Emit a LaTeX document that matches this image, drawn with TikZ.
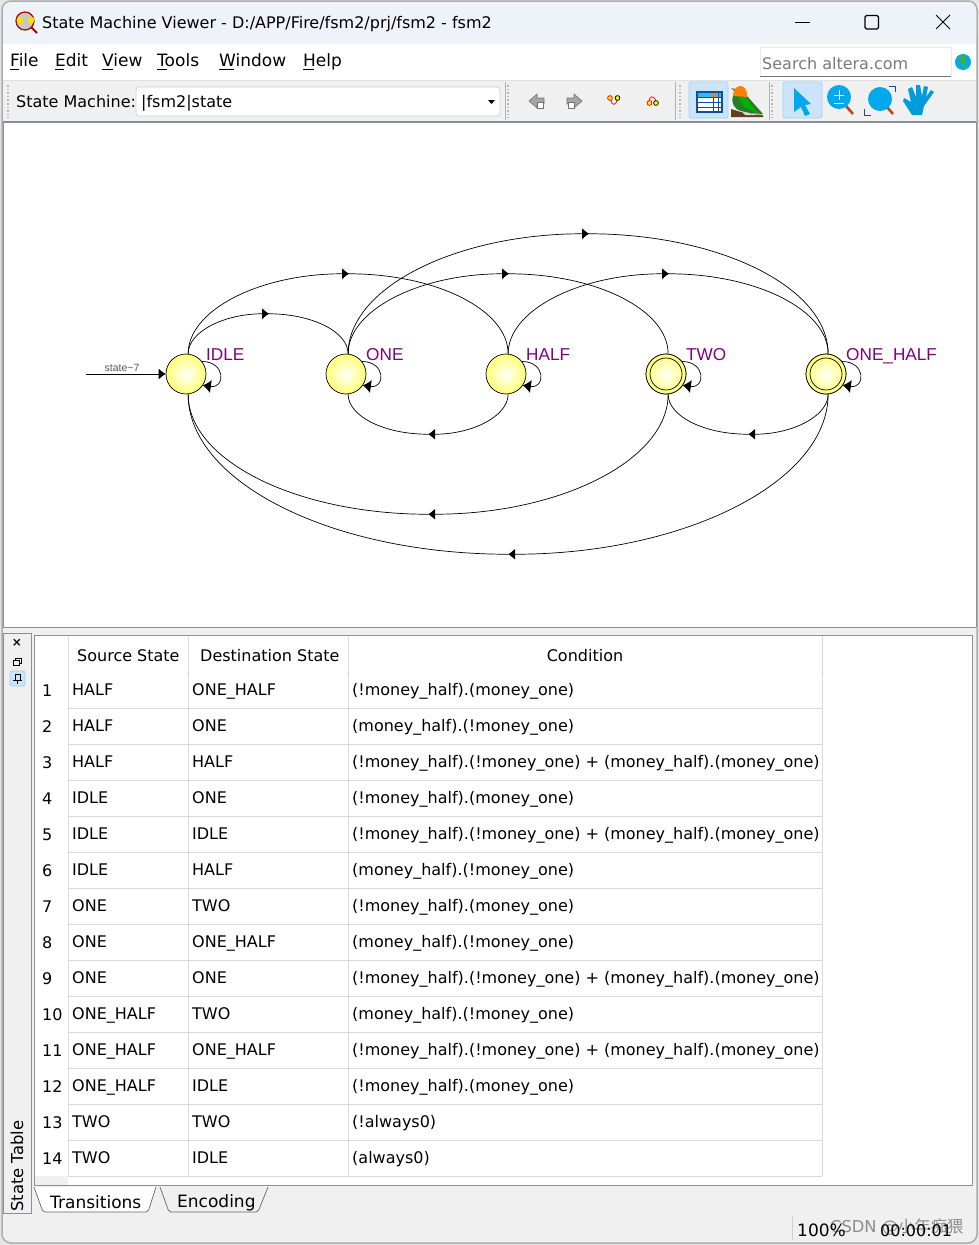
\documentclass[tikz,border=0pt]{standalone}
\usepackage{fontspec}
\setmainfont{DejaVu Sans}
\newfontfamily\cjk{Noto Sans CJK SC}
\newfontfamily\diagfont{Liberation Sans}
\usetikzlibrary{arrows.meta,calc,positioning}
\definecolor{chrome}{HTML}{F0F0F0}
\definecolor{titlebar}{HTML}{EEF3FA}
\definecolor{gridline}{HTML}{D9D9D9}
\definecolor{frameline}{HTML}{8C8F96}
\definecolor{statetext}{HTML}{800080}
\definecolor{hilite}{HTML}{CCE4F7}
\definecolor{hiliteline}{HTML}{99D1FF}
\definecolor{toolblue}{HTML}{00A8EC}
\definecolor{handleline}{HTML}{C1461B}
\definecolor{darkblue}{HTML}{0F4FA0}
\newcommand{\holdcond}{(!money\_half).(!money\_one) + (money\_half).(money\_one)}
\newcommand{\onecond}{(!money\_half).(money\_one)}
\newcommand{\halfcond}{(money\_half).(!money\_one)}
\tikzset{
  uitext/.style={inner sep=0pt,anchor=base west,font=\fontsize{16}{18}\selectfont},
  bigtext/.style={inner sep=0pt,anchor=base west,font=\fontsize{17}{18}\selectfont},
  cell/.style={inner sep=0pt,anchor=base west,font=\fontsize{16}{18}\selectfont},
  state/.style={circle,draw=black,line width=.7pt,minimum size=40pt,inner sep=0pt,
    shading=radial,inner color=white,outer color=yellow!55},
  accept/.style={path picture={\draw[line width=.7pt] (path picture bounding box.center) circle (16pt);}},
  statelabel/.style={inner sep=0pt,anchor=base west,text=statetext,font=\diagfont\fontsize{17.2}{18}\selectfont},
  trans/.style={line width=.7pt,draw=black},
  midtip/.style={-{Latex[length=7pt,width=11pt]}},
  looptip/.style={-{Latex[length=8pt,width=13pt]}},
  flatbutton/.style={rounded corners=2pt,fill=hilite,draw=hiliteline,line width=.7pt},
  dots/.style={dotted,line width=1.6pt,draw=black!28},
}
\begin{document}
\begin{tikzpicture}[x=1pt,y=-1pt]
\useasboundingbox (0,0) rectangle (979,1245);
\fill[black!10] (0,0) rectangle (979,1245);
% window
\draw[fill=chrome,draw=black!32,line width=1.5pt,rounded corners=9pt] (2,1) rectangle (977,1243);
\fill[titlebar,rounded corners=8pt] (3,2) -- (976,2) -- (976,44) -- (3,44) -- cycle;
\fill[titlebar] (3,20) rectangle (976,44);
\fill[white] (3,44) rectangle (976,80);
\draw[black!12,line width=1pt] (3,80.5) -- (976,80.5);
\fill[white] (3,123) rectangle (976,627);
\draw[frameline,line width=1.2pt] (3,122) -- (976,122);
\draw[frameline,line width=1pt] (3,627) -- (976,627) (976,122) -- (976,627) (3,122) -- (3,627);
% title bar
\fill[black!22] (25,21) circle (9pt);
\draw[red!70!black,line width=1.2pt] (25,21) circle (9pt);
\draw[red!70!black,line width=2pt] (31,27) -- (37,33);
\fill[yellow!85!orange] (20,20) circle (3.4pt) (31,20) circle (3.4pt);
\node[uitext] (wintitle) at (42,28) {State Machine Viewer - D:/APP/Fire/fsm2/prj/fsm2 - fsm2};
\draw[black,line width=1pt] (795,22.5) -- (810,22.5);
\draw[black,line width=1.2pt,rounded corners=1.5pt] (865,15.5) rectangle (878.5,29);
\draw[black,line width=1pt] (936,15) -- (950,29) (950,15) -- (936,29);
% menu
\foreach[count=\xi] \x/\w in {File/10,Edit/55,View/102,Tools/157,Window/219,Help/303}{
  \node[bigtext] (menu-\xi) at (\w,66) {\x};
}
\foreach \w/\t in {10/9,55/9,102/11,157/10,219/15,303/11}{
  \draw[black,line width=.7pt] (\w,69.5) -- ++(\t,0);
}
\fill[white] (760,47) rectangle (951,76);
\draw[black!8,line width=.6pt] (760,76) -- (760,47) -- (951,47) -- (951,76);
\draw[black!55,line width=1pt] (760,76.5) -- (951,76.5);
\node[uitext,text=black!52] (searchbox) at (762,69) {Search altera.com};
\fill[toolblue] (963,62) circle (8pt);
\fill[green!60!black!75] (958,57) -- (965,55.5) -- (966,61) -- (963,69) -- (961,62) -- cycle;
% toolbar
\foreach \x in {8,508,680,772}{
  \draw[dots] (\x,85) -- (\x,118);
}
\foreach \x in {505,675,769}{
  \draw[black!30,line width=.8pt] (\x,82) -- (\x,120);
}
\node[uitext] (machinelabel) at (16,107) {State Machine:};
\draw[fill=white,draw=black!18,line width=.8pt,rounded corners=3pt] (136,87) rectangle (500,116);
\node[uitext] (machinename) at (141,107) {|fsm2|state};
\fill[black] (488,100) -- (495,100) -- (491.5,104) -- cycle;
% navigation icons
\draw[fill=black!35,draw=black!55,line width=.6pt] (529,101) -- (537,94) -- (537,98) -- (544,98) -- (544,104) -- (537,104) -- (537,108) -- cycle;
\draw[fill=white,draw=black!55,line width=.6pt] (537,102) rectangle (543,108);
\draw[fill=black!35,draw=black!55,line width=.6pt] (582,101) -- (574,94) -- (574,98) -- (567,98) -- (567,104) -- (574,104) -- (574,108) -- cycle;
\draw[fill=white,draw=black!55,line width=.6pt] (568,102) rectangle (574,108);
\draw[red,line width=.7pt] (611,100) .. controls (611,106) and (617,106) .. (617,99);
\draw[red,fill=yellow,line width=.7pt] (610,98) circle (2.4pt);
\draw[black,fill=yellow,line width=.7pt] (617.5,98) circle (2.4pt);
\draw[red,line width=.7pt] (649,102) .. controls (649,95) and (655,95) .. (656,102);
\draw[red,fill=yellow,line width=.7pt] (649.5,103) circle (2.4pt);
\draw[black,fill=yellow,line width=.7pt] (656,103) circle (2.4pt);
% table and bird icons
\draw[flatbutton] (689,82) rectangle (728,118);
\fill[darkblue] (696,91) rectangle (723,113);
\fill[toolblue!80] (698,93) rectangle (721,97);
\fill[white] (698,98) rectangle (721,111);
\draw[darkblue,line width=1pt] (698,102.5) -- (721,102.5) (698,107) -- (721,107) (713,93) -- (713,111) (718,93) -- (718,111);
\fill[orange] (712,93) rectangle (716,97);
\fill[black!50!brown] (731,117) -- (731,109) -- (741,112) -- (763,115) -- (763,117) -- cycle;
\fill[white!85!black] (738,108) -- (752,114) -- (763,115) -- (745,115) -- cycle;
\fill[green!40!black!85] (733,96) .. controls (731,103) and (734,109) .. (741,111) -- (750,113) -- (763,114) -- (747,96) -- cycle;
\fill[green!70!black] (738,97) -- (746,97) -- (757,113) -- (744,107) -- cycle;
\fill[orange] (733,96) .. controls (733,83) and (748,82) .. (747,97) -- cycle;
\fill[black!60] (731,88) -- (735,89) -- (734,91) -- cycle;
% pointer and zoom icons
\draw[flatbutton] (783,82) rectangle (822,118);
\fill[toolblue] (794,88) -- (811,104) -- (805,105) -- (810,114) -- (805,116) -- (801,107) -- (794,112) -- cycle;
\draw[handleline,line width=2.6pt] (846,106) -- (853,114);
\fill[toolblue] (839,97) circle (12pt);
\draw[white,line width=1pt] (834,95) -- (844,95) (839,90) -- (839,99.5) (834,103) -- (844,103);
\draw[handleline,line width=2.6pt] (887,107) -- (893,114);
\fill[toolblue] (880,99) circle (12pt);
\draw[darkblue,line width=.9pt] (889,86) -- (895.5,86) -- (895.5,92) (864.5,109) -- (864.5,115.5) -- (871,115.5);
\fill[toolblue!92!black] (912,115) -- (922,115) -- (924,106) -- (934,92) -- (931,90) -- (926,97) -- (928,87) -- (924,86) -- (922,96) -- (920,85) -- (916,85) -- (916,97) -- (912,87) -- (908,89) -- (911,102) -- (904,98) -- (903,101) -- cycle;
% state diagram
\foreach \name/\lab/\x in {idle/IDLE/186,one/ONE/346,half/HALF/506,two/TWO/666,onehalf/ONE\_HALF/826}{
  \node[state] (\name) at (\x,374) {};
  \node[statelabel] (\name-label) at (\x+20,360) {\lab};
}
\node[state,accept] (two) at (666,374) {};
\node[state,accept] (onehalf) at (826,374) {};
\foreach \name in {idle,one,half,two,onehalf}{
  \draw[trans,looptip] (\name.38) to[out=0,in=-8,looseness=2.5] (\name.-34);
}
% arcs above the states, arcs below
\foreach \src/\dst/\rise in {idle/one/-40,idle/half/-80,one/two/-80,one/onehalf/-120,half/onehalf/-80}{
  \coordinate (peak) at ($(\src.84)!.5!(\dst.84)+(0,\rise)$);
  \draw[trans,midtip] (\src.84) .. controls ($(\src.84)+(0,.55*\rise)$) and ($(peak)!.55!(\src.84 |- peak)$) .. ($(peak)+(1,0)$);
  \draw[trans] (peak) .. controls ($(peak)!.55!(\dst.84 |- peak)$) and ($(\dst.84)+(0,.55*\rise)$) .. (\dst.84);
}
\foreach \src/\dst/\rise in {half/one/40,onehalf/two/40,two/idle/120,onehalf/idle/160}{
  \coordinate (peak) at ($(\src.-84)!.5!(\dst.-84)+(0,\rise)$);
  \draw[trans,midtip] (\src.-84) .. controls ($(\src.-84)+(0,.55*\rise)$) and ($(peak)!.55!(\src.-84 |- peak)$) .. (peak);
  \draw[trans] (peak) .. controls ($(peak)!.55!(\dst.-84 |- peak)$) and ($(\dst.-84)+(0,.55*\rise)$) .. (\dst.-84);
}
\coordinate (entry) at (86,374);
\draw[trans,line width=.8pt,-{Latex[length=7pt,width=11pt]}] (entry) -- (idle.west);
\node[inner sep=0pt,anchor=base,text=black!65,font=\diagfont\fontsize{10.5}{12}\selectfont] (entry-label) at (122,371) {state\textasciitilde7};
% side pane
\draw[fill=chrome,draw=frameline,line width=.8pt] (3,633) rectangle (31,1213);
\node[inner sep=0pt,font=\fontsize{12}{12}\selectfont\bfseries] (pane-close) at (17,643) {×};
\draw[black,line width=.7pt,fill=chrome] (15,658) rectangle (21,663);
\draw[black,line width=.7pt,fill=chrome] (13,660) rectangle (19,665);
\draw[flatbutton] (10,671) rectangle (25,686);
\draw[black,line width=.7pt] (15,674) rectangle (20,680) (13,680) -- (22,680) (17.5,680) -- (17.5,684);
\node[inner sep=0pt,rotate=90,anchor=west,font=\fontsize{16.4}{18}\selectfont] (pane-title) at (17,1212) {State Table};
% table
\fill[white] (34,635) rectangle (972,1185);
\fill[chrome] (35,1176) rectangle (68,1185);
\draw[frameline,line width=.9pt] (34,635) rectangle (972,1185);
\foreach \x in {68,188,348,822}{
  \draw[gridline,line width=.9pt] (\x,636) -- (\x,1176);
}
\foreach \r in {0,...,14}{
  \draw[gridline,line width=.9pt] (68,672+36*\r) -- (822,672+36*\r);
}
\fill[white] (69,671) rectangle (187,673) (189,671) rectangle (347,673) (349,671) rectangle (821,673);
\node[cell] (head-src) at (77,661) {Source State};
\node[cell] (head-dst) at (200,661) {Destination State};
\node[cell,anchor=base] (head-cond) at (585,661) {Condition};
\foreach[count=\xi] \s/\d/\c in {
  HALF/ONE\_HALF/\onecond,
  HALF/ONE/\halfcond,
  HALF/HALF/\holdcond,
  IDLE/ONE/\onecond,
  IDLE/IDLE/\holdcond,
  IDLE/HALF/\halfcond,
  ONE/TWO/\onecond,
  ONE/ONE\_HALF/\halfcond,
  ONE/ONE/\holdcond,
  ONE\_HALF/TWO/\halfcond,
  ONE\_HALF/ONE\_HALF/\holdcond,
  ONE\_HALF/IDLE/\onecond,
  TWO/TWO/{(!always0)},
  TWO/IDLE/{(always0)}}{
  \node[cell] (row-\xi) at (42,660+36*\xi) {\xi};
  \node[cell] (src-\xi) at (72,660+36*\xi-1) {\s};
  \node[cell] (dst-\xi) at (192,660+36*\xi-1) {\d};
  \node[cell] (cond-\xi) at (352,660+36*\xi-1) {\c};
}
% tabs
\draw[fill=white,draw=black!60,line width=.7pt,rounded corners=2pt] (34,1187) -- (43,1212) -- (148,1212) -- (156,1187);
\draw[draw=black!60,line width=.7pt,rounded corners=2pt] (160,1187) -- (169,1212) -- (258,1212) -- (268,1187);
\node[bigtext] (tab-trans) at (50,1208) {Transitions};
\node[bigtext] (tab-enc) at (177,1207) {Encoding};
% status bar
\draw[black!18,line width=.7pt] (792,1216) -- (792,1240);
\node[inner sep=0pt,anchor=base west,text=black!45,font=\fontsize{16.3}{18}\selectfont] (watermark) at (830,1232) {CSDN @{\cjk 小年痴猥}};
\node[bigtext] (zoomlevel) at (797,1236) {100\%};
\node[uitext] (elapsed) at (880,1236) {00:00:01};
\end{tikzpicture}
\end{document}
